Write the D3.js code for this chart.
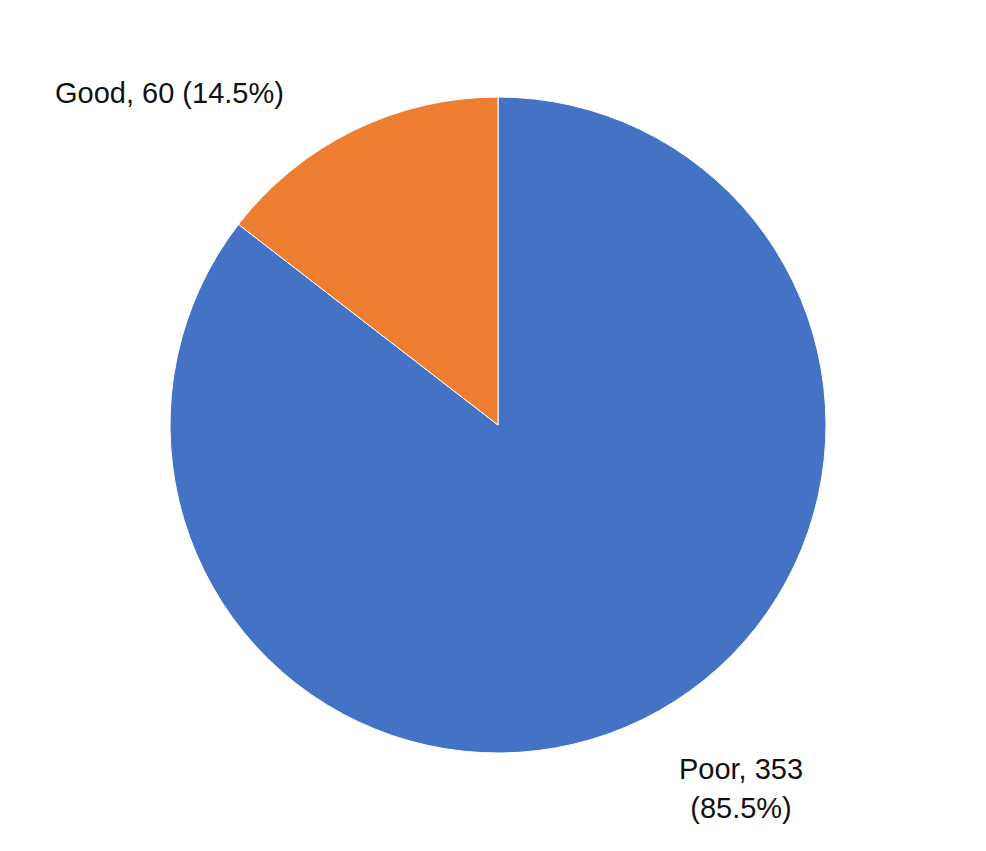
<!DOCTYPE html>
<html><head><meta charset="utf-8">
<script src="https://cdn.jsdelivr.net/npm/d3@7"></script>
<style>body{margin:0;background:#fff}</style></head>
<body><svg id="c" width="986" height="851"></svg>
<script>
const categories = ["Poor", "Good"];
const values = [353, 60];
const percents = ["85.5%", "14.5%"];
const colors = ["#4472C4", "#ED7D31"];

const svg = d3.select("#c");
const cx = 498, cy = 425, r = 328;
const pie = d3.pie().sort(null).value(d => d)(values);
const arc = d3.arc().innerRadius(0).outerRadius(r);
const g = svg.append("g").attr("transform", `translate(${cx},${cy})`);
g.selectAll("path").data(pie).join("path")
  .attr("d", arc).attr("fill", (d,i) => colors[i])
  .attr("stroke", "#fff").attr("stroke-width", 1);

const font = "Liberation Sans, Arial, sans-serif";
svg.append("text").attr("x", 55).attr("y", 103)
  .attr("font-family", font).attr("font-size", 29).attr("fill", "#111")
  .text(`${categories[1]}, ${values[1]} (${percents[1]})`);
const t = svg.append("text").attr("font-family", font).attr("font-size", 29)
  .attr("fill", "#111").attr("text-anchor", "middle");
t.append("tspan").attr("x", 741).attr("y", 779).text(`${categories[0]}, ${values[0]}`);
t.append("tspan").attr("x", 741).attr("y", 818).text(`(${percents[0]})`);
</script></body></html>
